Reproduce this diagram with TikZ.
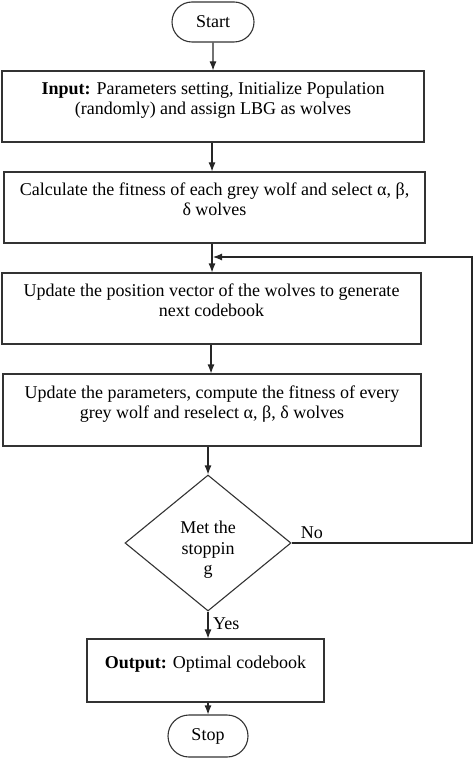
\documentclass[tikz,border=0pt]{standalone}
\usepackage{fontspec}
\setmainfont{Liberation Serif}
\usetikzlibrary{arrows.meta,positioning,calc,shapes.geometric,shapes.misc}

\begin{document}
\begin{tikzpicture}[x=1pt,y=-1pt,>={Latex[length=9pt,width=7pt]},
  term/.style={draw=black!80,line width=1.1pt,rounded rectangle,minimum width=86pt,minimum height=40pt,inner sep=2pt,font=\fontsize{18}{20}\selectfont},
  box/.style={draw=black!80,line width=1.1pt,rectangle,align=center,minimum height=71pt,inner sep=3pt,font=\fontsize{18}{20}\selectfont},
  dec/.style={draw=black!80,line width=1.1pt,diamond,align=center,minimum width=166pt,minimum height=136pt,inner sep=0pt,font=\fontsize{18}{20.5}\selectfont},
  lab/.style={font=\fontsize{18}{20}\selectfont,inner sep=1pt},
  arr/.style={->,line width=1.1pt,draw=black!85}]
\useasboundingbox (0,0) rectangle (474,759);
\node[term] (start) at (213,22) {Start};
\node[box, minimum width=422pt] (input) at (213,106.5) {\textbf{Input:} Parameters setting, Initialize Population\\(randomly) and assign LBG as wolves\\[-4pt]\mbox{}};
\node[box, minimum width=421pt] (calc) at (214.5,207.5) {Calculate the fitness of each grey wolf and select α, β,\\δ wolves\\[-4pt]\mbox{}};
\node[box, minimum width=419pt] (update) at (211.5,308.5) {Update the position vector of the wolves to generate\\next codebook\\[-4pt]\mbox{}};
\node[box, minimum width=418pt, minimum height=72pt] (param) at (212,410) {Update the parameters, compute the fitness of every\\grey wolf and reselect α, β, δ wolves\\[-4pt]\mbox{}};
\node[dec, text height=67pt, text depth=4pt] (stopq) at (208,543) {Met the\\stoppin\\g};
\node[box, minimum width=237pt, minimum height=63pt] (output) at (205.5,670.5) {\textbf{Output:} Optimal codebook\\[-4pt]\mbox{}};
\node[term, minimum width=84pt, minimum height=42pt] (stop) at (208,736) {Stop};
% main flow
\draw[arr] (start) -- (start |- input.north);
\draw[arr] (input.south -| 212,0) -- (212,0 |- calc.north);
\draw[arr] (calc.south -| 212,0) -- (212,0 |- update.north);
\draw[arr] (update.south -| 211,0) -- (211,0 |- param.north);
\draw[arr] (param.south -| stopq.north) -- (stopq.north);
\draw[arr] (stopq.south) -- (stopq.south |- output.north);
\draw[arr] (output.south -| stop.north) -- (stop.north);
% loop back
\coordinate (join) at (213,257);
\coordinate (turn) at (472,257);
\draw[arr] (stopq.east) -| (turn) -- (join);
\node[lab, anchor=south west] (no) at ($(stopq.east)+(8,-3)$) {No};
\node[lab, anchor=west] (yes) at ($(stopq.south)+(4,12)$) {Yes};
\end{tikzpicture}
\end{document}
